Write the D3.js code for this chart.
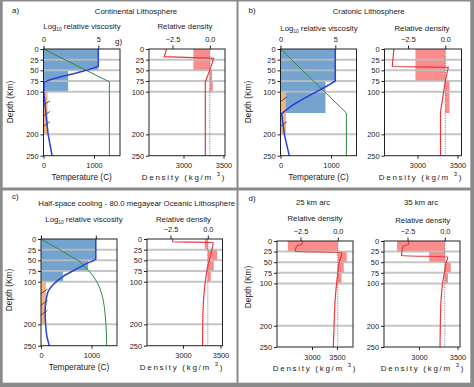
<!DOCTYPE html>
<html><head><meta charset="utf-8">
<script src="https://cdn.jsdelivr.net/npm/d3@7"></script>
<style>
html,body{margin:0;padding:0;background:#fff;}
svg{display:block;}
</style></head><body>
<svg id="chart" width="474" height="387"></svg>
<script>
// ---------------- data ----------------
const depthTicks = [0, 25, 50, 75, 100, 200, 250];
const gridDepths = [25, 50, 75, 100, 200];
const viscTicks = [0, 5];
const tempTicks = [0, 1000];
const relDensTicks = [-2.5, 0];
const densTicks = [3000, 3500];

// a) Continental lithosphere
const contViscBars = [{top: 0, bottom: 50, v: 5}, {top: 50, bottom: 100, v: 2.25}];
const contViscLine = [[0, 5], [41, 5], [50, 3.9], [57, 2.9], [65, 1.6], [72, 0.6], [78, 0.05], [100, 0.02], [200, 0.42], [250, 0.78]];
const contTemp = [[0, 0], [77, 1305], [250, 1305]];
const contWeak = {top: 100, bottom: 200, v: 0.37};
const contHatch = [127, 152, 176];
const contDensBars = [{top: 0, bottom: 25, v: -1.1}, {top: 25, bottom: 50, v: -1.1}, {top: 50, bottom: 75, v: 0.15}, {top: 75, bottom: 100, v: 0.2}];
const contDensLine = [[0, -2.9], [18, -3.05], [22, 0.25], [50, 0], [77, -0.3], [250, -0.3]];

// b) Cratonic lithosphere
const cratViscBars = [{top: 0, bottom: 75, v: 5}, {top: 75, bottom: 150, v: 4.1}];
const cratViscLine = [[0, 5], [75, 5], [85, 4.35], [100, 3.3], [115, 2.2], [130, 1.2], [145, 0.4], [152, 0.1], [200, 0.35], [250, 0.8]];
const cratTemp = [[0, 0], [150, 1305], [250, 1305]];
const cratWeak = {top: 100, bottom: 200, v: 0.5};
const cratHatch = [118, 176];
const cratDensBars = [{top: 0, bottom: 25, v: -2}, {top: 25, bottom: 50, v: -2}, {top: 50, bottom: 75, v: -2}, {top: 75, bottom: 100, v: 0.28}, {top: 100, bottom: 125, v: 0.28}, {top: 125, bottom: 150, v: 0.28}];
const cratDensLine = [[0, -3.45], [41, -3.55], [43, 0.2], [75, 0], [148, -0.32], [250, -0.32]];

// c) Half-space cooling, 80 Myr oceanic lithosphere
const oceanViscBars = [{top: 0, bottom: 50, v: 5}, {top: 50, bottom: 75, v: 4.3}, {top: 75, bottom: 100, v: 2.0}];
const oceanViscLine = [[0, 5], [47, 5], [57, 4.2], [72, 3.1], [88, 2.0], [107, 1.1], [123, 0.65], [147, 0.45], [170, 0.38], [200, 0.42], [225, 0.52], [250, 0.76]];
const oceanTemp = [[0, 0], [10, 150], [20, 295], [30, 441], [40, 580], [53, 772], [65, 865], [76, 960], [90, 1050], [107, 1134], [125, 1192], [147, 1238], [175, 1268], [200, 1287], [250, 1301]];
const oceanWeak = {top: 100, bottom: 200, v: 0.45};
const oceanHatch = [123, 150, 173];
const oceanDensBars = [{top: 0, bottom: 25, v: -0.2}, {top: 25, bottom: 50, v: 0.62}, {top: 50, bottom: 75, v: 0.4}, {top: 75, bottom: 100, v: 0.2}];
const oceanDensLine = [[0, -2.37], [7, -2.35], [8, 0.36], [25, 0.27], [50, 0.1], [68, -0.03], [88, -0.12], [104, -0.18], [140, -0.28], [200, -0.34], [250, -0.35]];

// d) arcs
const arc25DensBars = [{top: 0, bottom: 25, v: -3.35}, {top: 25, bottom: 50, v: 0.6}, {top: 50, bottom: 75, v: 0.4}, {top: 75, bottom: 100, v: 0.25}];
const arc25DensLine = [[0, -2.35], [7, -2.4], [12, -2.75], [25, -2.85], [27, 0.28], [50, 0.1], [75, 0], [100, -0.08], [140, -0.18], [200, -0.25], [250, -0.3]];
const arc35DensBars = [{top: 0, bottom: 25, v: -3.2}, {top: 25, bottom: 50, v: -1.05}, {top: 50, bottom: 75, v: 0.4}, {top: 75, bottom: 100, v: 0.22}];
const arc35DensLine = [[0, -2.4], [8, -2.45], [12, -2.8], [35, -2.9], [37, 0.2], [50, 0.1], [75, -0.03], [100, -0.15], [140, -0.25], [200, -0.3], [250, -0.32]];

// ---------------- drawing ----------------
const FONT = '"Liberation Sans", Arial, Helvetica, sans-serif';
const C = {visc: "#74a3cf", weak: "#f2b27a", grid: "#bdbdbd", viscLine: "#2b3fd9", temp: "#2e8b3e",
           dens: "#e8383d", densFill: "#fa8c8c", ink: "#1a1a1a", frame: "#8a8a8a"};
const TICK_FS = 7.4, LABEL_FS = 8.3;
const svg = d3.select("#chart").attr("font-family", FONT);

// frame
svg.append("rect").attr("width", 474).attr("height", 387).attr("fill", C.frame);
[[2.7, 1.5, 233.8, 186], [238.5, 1.5, 231.8, 186], [2.7, 190.5, 233.8, 192.2], [238.5, 190.5, 231.8, 192.2]]
  .forEach(r => svg.append("rect").attr("x", r[0]).attr("y", r[1]).attr("width", r[2]).attr("height", r[3]).attr("fill", "#fff"));

function txt(x, y, s, size, anchor) {
  return svg.append("text").attr("x", x).attr("y", y).attr("font-size", size || 7.8)
    .attr("text-anchor", anchor || "middle").attr("fill", C.ink).text(s);
}
function logTitle(x, y) {
  const t = svg.append("text").attr("x", x).attr("y", y).attr("font-size", 7.8).attr("text-anchor", "middle").attr("fill", C.ink);
  t.append("tspan").text("Log");
  t.append("tspan").attr("font-size", 4.8).attr("dy", 2).text("10");
  t.append("tspan").attr("dy", -2).text(" relative viscosity");
}
function densTitle(x, y) {
  const t = svg.append("text").attr("x", x).attr("y", y).attr("font-size", 8).attr("text-anchor", "middle")
    .attr("fill", C.ink).attr("letter-spacing", 1.7);
  t.append("tspan").text("Density (kg/m ");
  t.append("tspan").attr("font-size", 6).attr("dy", -4).text("3");
  t.append("tspan").attr("dy", 4).text(")");
}
function depthTitle(x, y) {
  svg.append("text").attr("transform", `translate(${x},${y}) rotate(-90)`).attr("font-size", LABEL_FS)
    .attr("text-anchor", "middle").attr("fill", C.ink).text("Depth (Km)");
}
function styleAxis(sel) {
  sel.select(".domain").remove();
  sel.selectAll("text").attr("font-size", TICK_FS).attr("fill", C.ink);
  sel.selectAll("line").attr("stroke", "#222");
}
function grid(g, x0, x1, y) {
  g.selectAll(null).data(gridDepths).join("line")
    .attr("x1", x0).attr("x2", x1).attr("y1", d => y(d)).attr("y2", d => y(d))
    .attr("stroke", C.grid).attr("stroke-width", 2).attr("opacity", 0.85);
}
function yAxis(g, box, y) {
  g.append("g").attr("transform", `translate(${box.left},0)`)
    .call(d3.axisLeft(y).tickValues(depthTicks).tickSize(3).tickPadding(2).tickSizeOuter(0)).call(styleAxis);
}

function leftPlot(box, d) {
  const y = d3.scaleLinear().domain([0, 250]).range([box.top, box.bottom]);
  const xV = d3.scaleLinear().domain([0, 5]).range([box.left, box.left + 54.8]);
  const xT = d3.scaleLinear().domain([0, 1000]).range([box.left, box.left + 50.5]);
  const g = svg.append("g");
  g.selectAll(null).data(d.bars).join("rect")
    .attr("x", xV(0)).attr("y", b => y(b.top)).attr("width", b => xV(b.v) - xV(0))
    .attr("height", b => y(b.bottom) - y(b.top)).attr("fill", C.visc);
  g.append("rect").attr("x", xV(0)).attr("y", y(d.weak.top)).attr("width", xV(d.weak.v) - xV(0))
    .attr("height", y(d.weak.bottom) - y(d.weak.top)).attr("fill", C.weak);
  grid(g, box.left, box.right, y);
  g.selectAll(null).data(d.hatch).join("line")
    .attr("x1", xV(0) - 0.5).attr("y1", h => y(h) + 2.5).attr("x2", xV(0) + 6.5).attr("y2", h => y(h) - 2.5)
    .attr("stroke", "#333").attr("stroke-width", 0.8);
  const lineT = d3.line().x(p => xT(p[1])).y(p => y(p[0])).curve(d.curve);
  const lineV = d3.line().x(p => xV(p[1])).y(p => y(p[0])).curve(d.curve);
  g.append("path").attr("d", lineT(d.temp)).attr("fill", "none").attr("stroke", C.temp).attr("stroke-width", 1);
  g.append("path").attr("d", lineV(d.viscLine)).attr("fill", "none").attr("stroke", C.viscLine).attr("stroke-width", 1.5);
  g.append("rect").attr("x", box.left).attr("y", box.top).attr("width", box.right - box.left)
    .attr("height", box.bottom - box.top).attr("fill", "none").attr("stroke", "#222").attr("stroke-width", 1);
  yAxis(g, box, y);
  g.append("g").attr("transform", `translate(0,${box.top})`)
    .call(d3.axisTop(xV).tickValues(viscTicks).tickSize(3.5).tickPadding(4).tickFormat(d.viscLabels ? d3.format("d") : () => ""))
    .call(styleAxis);
  g.append("g").attr("transform", `translate(0,${box.bottom})`)
    .call(d3.axisBottom(xT).tickValues(tempTicks).tickSize(3).tickPadding(4.5).tickFormat(d3.format("d")))
    .call(styleAxis);
}

function rightPlot(box, d) {
  const y = d3.scaleLinear().domain([0, 250]).range([box.top, box.bottom]);
  const xR = d3.scaleLinear().domain([-2.5, 0]).range([box.left + 23.5, box.left + 60.8]);
  const xD = d3.scaleLinear().domain([3000, 3500]).range([box.left + d.dens3000, box.left + d.dens3500]);
  const g = svg.append("g");
  g.selectAll(null).data(d.bars).join("rect")
    .attr("x", b => Math.min(xR(0), xR(b.v))).attr("y", b => y(b.top))
    .attr("width", b => Math.abs(xR(b.v) - xR(0))).attr("height", b => y(b.bottom) - y(b.top))
    .attr("fill", C.densFill);
  grid(g, box.left, box.right, y);
  g.append("line").attr("x1", xR(0)).attr("x2", xR(0)).attr("y1", box.top).attr("y2", box.bottom)
    .attr("stroke", "#555").attr("stroke-width", 0.8).attr("stroke-dasharray", "1,1.3");
  const line = d3.line().x(p => xR(p[1])).y(p => y(p[0])).curve(d.curve);
  g.append("path").attr("d", line(d.line)).attr("fill", "none").attr("stroke", C.dens).attr("stroke-width", 1.2);
  g.append("rect").attr("x", box.left).attr("y", box.top).attr("width", box.right - box.left)
    .attr("height", box.bottom - box.top).attr("fill", "none").attr("stroke", "#222").attr("stroke-width", 1);
  yAxis(g, box, y);
  g.append("g").attr("transform", `translate(0,${box.top})`)
    .call(d3.axisTop(xR).tickValues(relDensTicks).tickSize(3.5).tickPadding(4).tickFormat(d3.format(".1f")))
    .call(styleAxis);
  g.append("g").attr("transform", `translate(0,${box.bottom})`)
    .call(d3.axisBottom(xD).tickValues(densTicks).tickSize(3).tickPadding(4.5).tickFormat(d3.format("d")))
    .call(styleAxis);
}

// ---- panel a ----
txt(12, 12.5, "a)", 8, "start");
txt(136, 13.5, "Continental Lithosphere");
logTitle(82, 29); txt(185, 29, "Relative density");
txt(115, 43.5, "g)", 8, "start");
leftPlot({left: 43.5, right: 120, top: 49, bottom: 155.7},
  {bars: contViscBars, viscLine: contViscLine, temp: contTemp, weak: contWeak, hatch: contHatch, viscLabels: true, curve: d3.curveLinear});
rightPlot({left: 149, right: 225, top: 49, bottom: 155.7},
  {bars: contDensBars, line: contDensLine, dens3000: 34.5, dens3500: 74.5, curve: d3.curveLinear});
depthTitle(13, 102);
txt(81.7, 179.5, "Temperature (C)", LABEL_FS);
densTitle(184, 180);

// ---- panel b ----
txt(248.5, 13, "b)", 8, "start");
txt(368.7, 13.5, "Cratonic  Lithosphere");
logTitle(319, 31); txt(422, 31, "Relative density");
leftPlot({left: 280.5, right: 356.5, top: 49, bottom: 155.7},
  {bars: cratViscBars, viscLine: cratViscLine, temp: cratTemp, weak: cratWeak, hatch: cratHatch, viscLabels: true, curve: d3.curveLinear});
rightPlot({left: 384.5, right: 461.5, top: 49, bottom: 155.7},
  {bars: cratDensBars, line: cratDensLine, dens3000: 33, dens3500: 73, curve: d3.curveLinear});
depthTitle(250.5, 102);
txt(318.5, 179.5, "Temperature (C)", LABEL_FS);
densTitle(421, 180);

// ---- panel c ----
txt(12, 198.5, "c)", 8, "start");
txt(136.7, 206, "Half-space cooling - 80.0 megayear Oceanic Lithosphere");
logTitle(84, 222); txt(183.5, 222, "Relative density");
leftPlot({left: 41, right: 117, top: 239, bottom: 345.7},
  {bars: oceanViscBars, viscLine: oceanViscLine, temp: oceanTemp, weak: oceanWeak, hatch: oceanHatch, viscLabels: false, curve: d3.curveMonotoneY});
rightPlot({left: 147, right: 222.5, top: 239, bottom: 345.7},
  {bars: oceanDensBars, line: oceanDensLine, dens3000: 36, dens3500: 73.5, curve: d3.curveMonotoneY});
depthTitle(12, 290);
txt(79, 369.5, "Temperature (C)", LABEL_FS);
densTitle(182, 370);

// ---- panel d ----
txt(248.5, 201, "d)", 8, "start");
txt(313, 205, "25 km arc"); txt(421, 205, "35 km arc");
txt(315, 221, "Relative density"); txt(422.7, 222.5, "Relative density");
rightPlot({left: 277, right: 353, top: 241, bottom: 347},
  {bars: arc25DensBars, line: arc25DensLine, dens3000: 35, dens3500: 60, curve: d3.curveMonotoneY});
rightPlot({left: 384, right: 460, top: 241, bottom: 347},
  {bars: arc35DensBars, line: arc35DensLine, dens3000: 35, dens3500: 73.5, curve: d3.curveMonotoneY});
depthTitle(250.5, 287);
densTitle(315, 371);
densTitle(423, 371);
</script>
</body></html>
